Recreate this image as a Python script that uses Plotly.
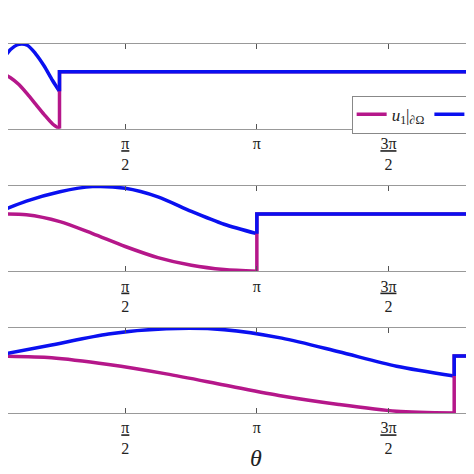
import plotly.graph_objects as go
from plotly.subplots import make_subplots
import numpy as np

theta1 = [0, 0.1, 0.2, 0.3, 0.4, 0.5, 0.6, 0.7, 0.785]
u1_p1 = [0.67, 0.65, 0.60, 0.52, 0.41, 0.29, 0.17, 0.06, 0.0]
u2_p1 = [0.67, 0.80, 0.93, 0.99, 0.98, 0.88, 0.74, 0.57, 0.44]

theta2 = [0, 0.39, 0.79, 1.18, 1.57, 1.96, 2.36, 2.75, 3.1416]
u1_p2 = [0.67, 0.66, 0.58, 0.44, 0.29, 0.16, 0.07, 0.02, 0.0]
u2_p2 = [0.67, 0.82, 0.93, 0.99, 0.97, 0.87, 0.70, 0.55, 0.44]

theta3 = [0, 0.69, 1.37, 2.06, 2.75, 3.44, 4.12, 4.81, 5.498]
u1_p3 = [0.67, 0.65, 0.57, 0.46, 0.33, 0.20, 0.10, 0.02, 0.0]
u2_p3 = [0.67, 0.80, 0.93, 0.99, 0.98, 0.88, 0.72, 0.55, 0.435]

flat_level = 0.67
theta_end = 2 * np.pi

tick_vals = [np.pi / 2, np.pi, 3 * np.pi / 2]
tick_text = ["<span style='text-decoration:underline'>π</span><br>2", "π",
             "<span style='text-decoration:underline'>3π</span><br>2"]

magenta = "#b5178a"
blue = "#0a10f0"
name1 = "<i>u</i><sub>1</sub>|<sub>∂Ω</sub>"
name2 = "<i>u</i><sub>2</sub>|<sub>∂Ω</sub>"

fig = make_subplots(rows=3, cols=1)

panels = [(theta1, u1_p1, u2_p1), (theta2, u1_p2, u2_p2), (theta3, u1_p3, u2_p3)]
for i, (th, a, b) in enumerate(panels):
    r = i + 1
    # smooth part
    fig.add_trace(go.Scatter(x=th, y=a, mode="lines", legendgroup="u1",
                             line=dict(color=magenta, width=3.5, shape="spline", smoothing=0.8),
                             name=name1, showlegend=(r == 1)), row=r, col=1)
    fig.add_trace(go.Scatter(x=th, y=b, mode="lines", legendgroup="u2",
                             line=dict(color=blue, width=3.5, shape="spline", smoothing=0.8),
                             name=name2, showlegend=(r == 1)), row=r, col=1)
    # jump and constant part
    fig.add_trace(go.Scatter(x=[th[-1], th[-1], theta_end], y=[a[-1], flat_level, flat_level],
                             mode="lines", legendgroup="u1", showlegend=False,
                             line=dict(color=magenta, width=3.5)), row=r, col=1)
    fig.add_trace(go.Scatter(x=[th[-1], th[-1], theta_end], y=[b[-1], flat_level, flat_level],
                             mode="lines", legendgroup="u2", showlegend=False,
                             line=dict(color=blue, width=3.5)), row=r, col=1)

domains = [[0.745, 0.925], [0.4445, 0.625], [0.1456, 0.325]]
for i in range(3):
    r = i + 1
    fig.update_xaxes(range=[0.17, 5.83], tickvals=tick_vals, ticktext=tick_text,
                     ticks="inside", ticklen=5, tickcolor="#555", showline=True,
                     linecolor="#999", linewidth=1.2, mirror="ticks", showgrid=False,
                     zeroline=False, tickfont=dict(family="Liberation Serif", size=16, color="#222"),
                     row=r, col=1)
    fig.update_yaxes(range=[0, 1], domain=domains[i], showticklabels=False, showgrid=False,
                     zeroline=False, showline=False, row=r, col=1)

fig.add_annotation(text="<i>θ</i>", xref="paper", yref="paper", x=0.523, y=0.02,
                   showarrow=False, font=dict(family="Liberation Serif", size=24, color="#222"))

fig.update_layout(width=474, height=474,
                  margin=dict(l=0, r=0, t=0, b=0, autoexpand=False),
                  plot_bgcolor="white", paper_bgcolor="white",
                  legend=dict(orientation="h", x=0.725, y=0.815, xanchor="left", yanchor="top",
                              bordercolor="#888", borderwidth=1, bgcolor="white",
                              font=dict(family="Liberation Serif", size=17, color="#222")))

fig.write_html("out.html")
